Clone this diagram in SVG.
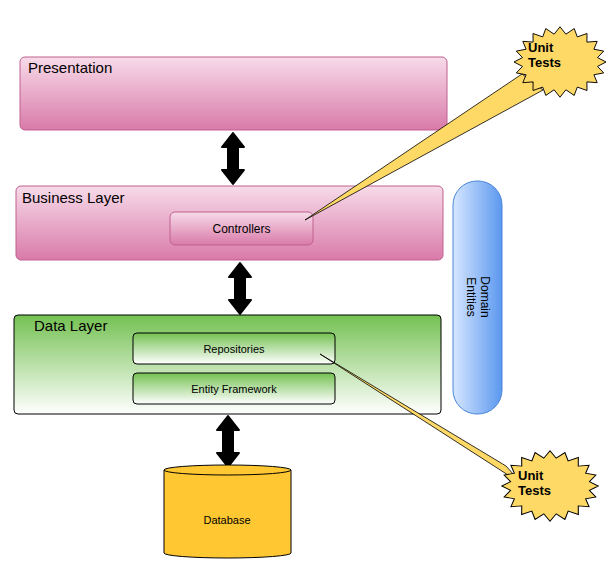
<svg xmlns="http://www.w3.org/2000/svg" width="615" height="568" viewBox="0 0 615 568">
<style>
.lbl{font-family:"Liberation Sans",Arial,sans-serif;fill:#000}
.big{font-size:15px}.sm{font-size:12px}.xs{font-size:11px}
.pink{fill:url(#gp);stroke:#c0608f;stroke-width:1}
.green{fill:url(#gg);stroke:#000;stroke-width:1}
.burst{fill:#ffd966;stroke:#000;stroke-width:1}
.tail{fill:#ffd966;stroke:#000;stroke-width:0.8}
.arr{fill:#000;stroke:#000;stroke-width:2;stroke-linejoin:round}
</style>
<defs>
<linearGradient id="gp" x1="0" y1="0" x2="0" y2="1"><stop offset="0" stop-color="#f7dbe9"/><stop offset="1" stop-color="#d97aa9"/></linearGradient>
<linearGradient id="gg" x1="0" y1="0" x2="0" y2="1"><stop offset="0" stop-color="#74c152"/><stop offset="1" stop-color="#ffffff"/></linearGradient>
<linearGradient id="gb" x1="0" y1="0" x2="1" y2="0"><stop offset="0" stop-color="#d6e6ff"/><stop offset="1" stop-color="#5b98ef"/></linearGradient>
<polygon id="star" points="46,0 37.5,5 43.7,12.4 33.9,14.5 37.2,23.5 26.9,22.6 27,32.4 17.3,28.5 14.2,38 5.9,31.6 0,40 -5.9,31.6 -14.2,38 -17.3,28.5 -27,32.4 -26.9,22.6 -37.2,23.5 -33.9,14.5 -43.7,12.4 -37.5,5 -46,0 -37.5,-5 -43.7,-12.4 -33.9,-14.5 -37.2,-23.5 -26.9,-22.6 -27,-32.4 -17.3,-28.5 -14.2,-38 -5.9,-31.6 0,-40 5.9,-31.6 14.2,-38 17.3,-28.5 27,-32.4 26.9,-22.6 37.2,-23.5 33.9,-14.5 43.7,-12.4 37.5,-5"/>
<polygon id="dbl" points="0,1 -11,15 -5,15 -5,38 -11,38 0,52 11,38 5,38 5,15 11,15"/>
</defs>
<g id="connectors">
<use href="#dbl" x="233" y="132" class="arr"/>
<use href="#dbl" x="240" y="262" class="arr"/>
<use href="#dbl" x="228" y="415" class="arr"/>
</g>
<g id="presentation"><rect x="20" y="57" width="427" height="73" rx="5" class="pink"/><text x="28" y="73" class="lbl big">Presentation</text></g>
<g id="business"><rect x="16" y="186" width="427" height="74" rx="5" class="pink"/><text x="22" y="203" class="lbl big">Business Layer</text></g>
<g id="controllers"><rect x="170" y="212" width="143" height="33" rx="5" class="pink"/><text x="241.5" y="233" text-anchor="middle" class="lbl sm">Controllers</text></g>
<g id="data"><rect x="14" y="315" width="427" height="99" rx="4" class="green"/><text x="34" y="331" class="lbl big">Data Layer</text></g>
<g id="repositories"><rect x="133" y="333" width="202" height="31" rx="4" class="green"/><text x="234" y="353" text-anchor="middle" class="lbl xs">Repositories</text></g>
<g id="entity"><rect x="133" y="373" width="202" height="31" rx="4" class="green"/><text x="234" y="393" text-anchor="middle" class="lbl xs">Entity Framework</text></g>
<g id="domain"><rect x="453" y="181" width="49" height="233" rx="24" fill="url(#gb)" stroke="#4a86d8"/>
<text transform="translate(477,297) rotate(90)" text-anchor="middle" class="lbl sm"><tspan x="0" y="-4">Domain</tspan><tspan x="0" y="10">Entities</tspan></text></g>
<g id="database"><path d="M164,470 L164,553 A63.5,5 0 0 0 291,553 L291,470 Z" fill="#ffc832" stroke="#000"/><ellipse cx="227.5" cy="470" rx="63.5" ry="5" fill="#ffc832" stroke="#000"/><text x="227" y="524" text-anchor="middle" class="lbl xs">Database</text></g>
<g id="unittests1"><polygon points="305,220 522,74 543,90" class="tail"/><use href="#star" transform="translate(560,62) scale(1,0.88)" class="burst"/><text x="528" y="52" class="lbl" font-size="13" font-weight="bold"><tspan x="528">Unit</tspan><tspan x="528" dy="15">Tests</tspan></text></g>
<g id="unittests2"><polygon points="320,354 506,466 522,484" class="tail"/><use href="#star" transform="translate(550,486) scale(1.05,0.88)" class="burst"/><text x="518" y="480" class="lbl" font-size="13" font-weight="bold"><tspan x="518">Unit</tspan><tspan x="518" dy="15">Tests</tspan></text></g>
</svg>
